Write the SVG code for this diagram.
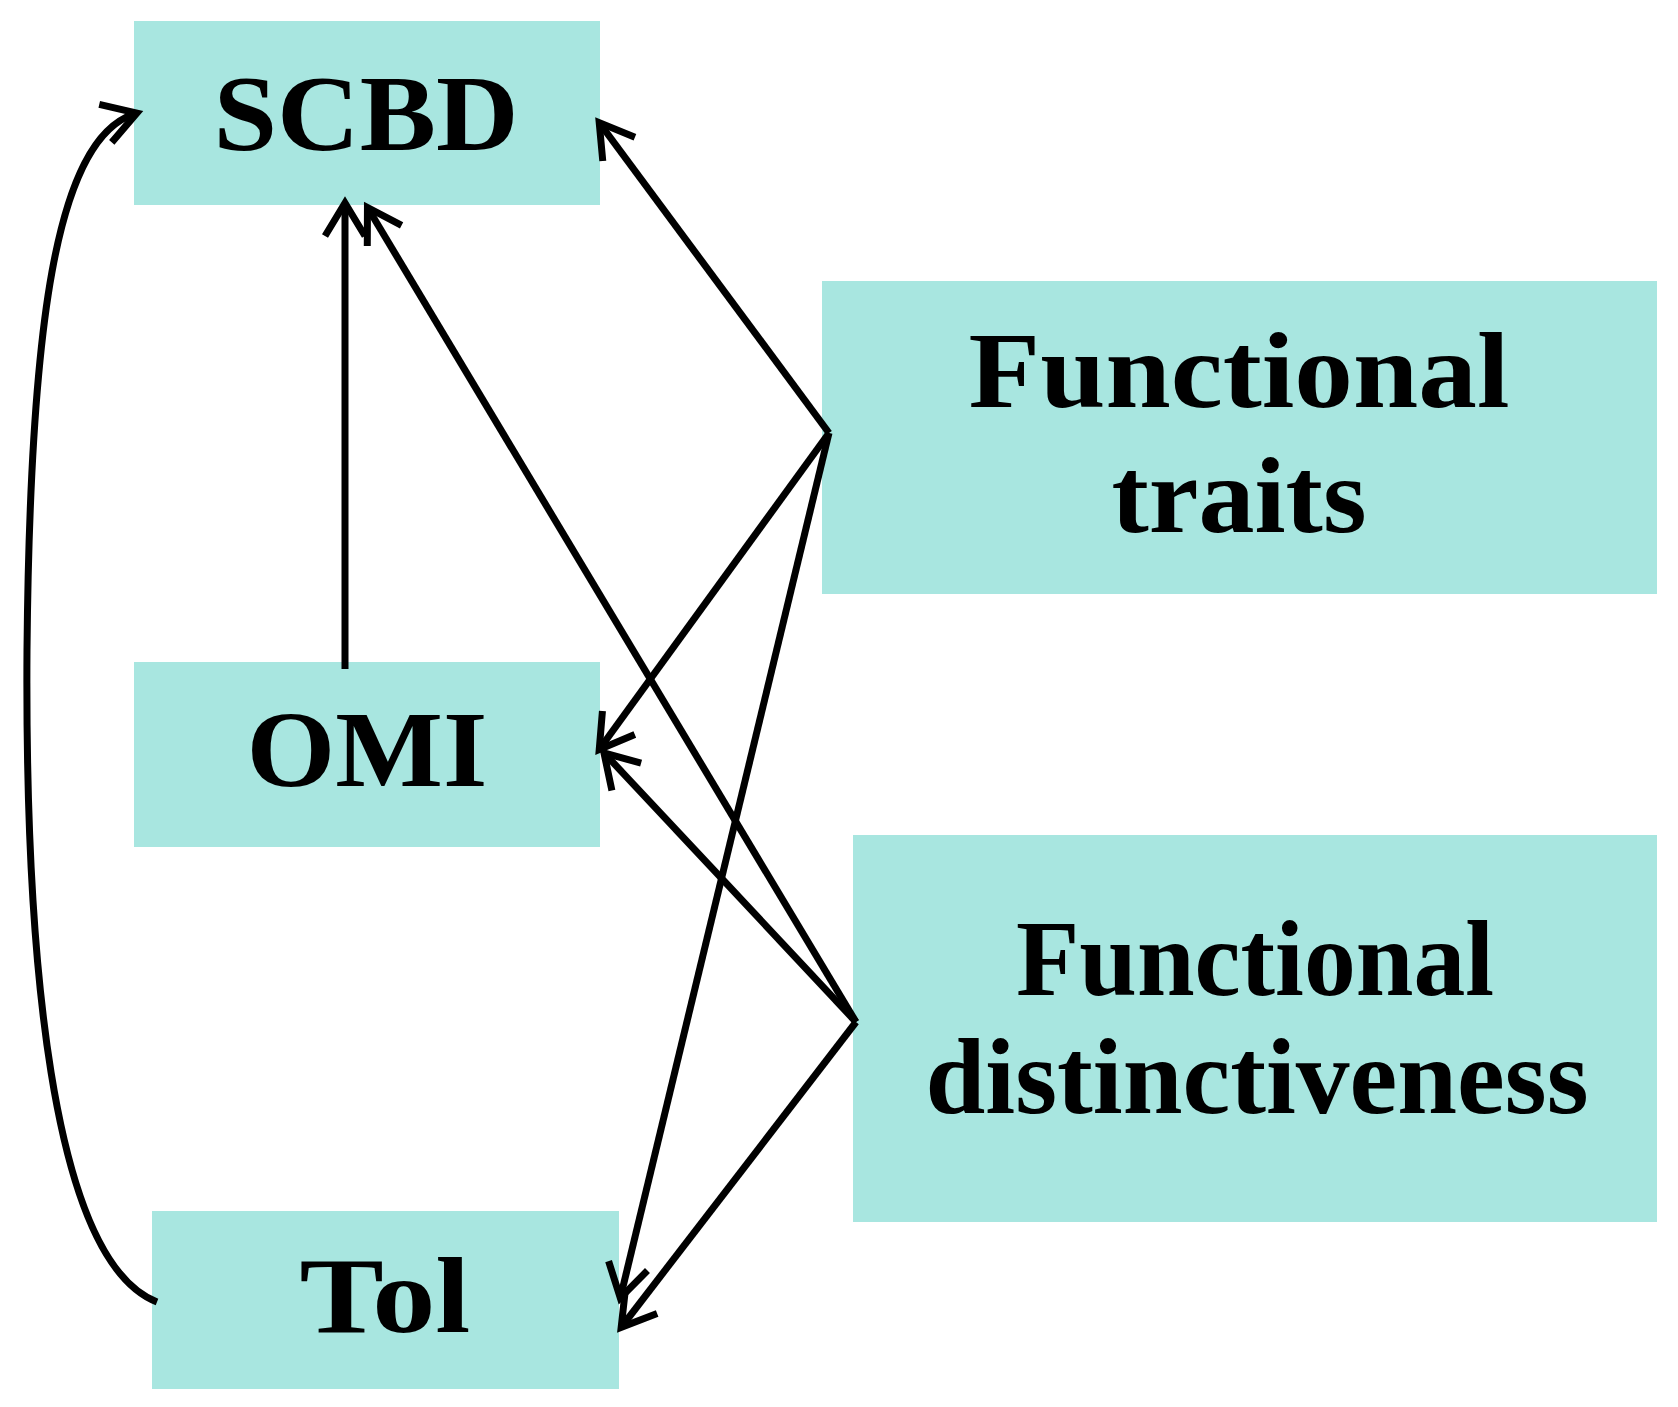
<svg xmlns="http://www.w3.org/2000/svg" width="1678" height="1407" viewBox="0 0 1678 1407">
<style>
.box{fill:#a8e6e0}
.t{font-family:"Liberation Serif",serif;font-size:108px;font-weight:bold;fill:#000;text-anchor:middle}
.c{fill:none;stroke:#000;stroke-width:7;marker-end:url(#ah)}
</style>
<defs>
<marker id="ah" markerWidth="60" markerHeight="60" refX="0" refY="0" orient="auto" markerUnits="userSpaceOnUse" overflow="visible">
<path d="M-30,-20 L3,0 L-30,20" fill="none" stroke="#000" stroke-width="7"/>
</marker>
</defs>
<g id="SCBD"><rect class="box" x="134" y="21" width="466" height="184"/><text class="t" x="366" y="150" textLength="305" lengthAdjust="spacingAndGlyphs">SCBD</text></g>
<g id="FT"><rect class="box" x="822" y="281" width="835" height="313"/><text class="t" x="1239" y="407" textLength="541" lengthAdjust="spacingAndGlyphs">Functional</text><text class="t" x="1239" y="532" textLength="255" lengthAdjust="spacingAndGlyphs">traits</text></g>
<g id="OMI"><rect class="box" x="134" y="662" width="466" height="185"/><text class="t" x="367" y="786" textLength="241" lengthAdjust="spacingAndGlyphs">OMI</text></g>
<g id="FD"><rect class="box" x="853" y="835" width="804" height="387"/><text class="t" x="1255" y="995" textLength="478" lengthAdjust="spacingAndGlyphs">Functional</text><text class="t" x="1257" y="1113" textLength="663" lengthAdjust="spacingAndGlyphs">distinctiveness</text></g>
<g id="Tol"><rect class="box" x="152" y="1211" width="467" height="178"/><text class="t" x="385" y="1332" textLength="171" lengthAdjust="spacingAndGlyphs">Tol</text></g>
<g id="connectors">
<path class="c" d="M345,669 L345,206"/>
<path class="c" d="M829,433 L601,125"/>
<path class="c" d="M829,433 L601,747"/>
<path class="c" d="M829,433 L621,1295"/>
<path class="c" d="M856,1022 L369,210"/>
<path class="c" d="M856,1022 L606,755"/>
<path class="c" d="M856,1022 L623,1325"/>
<path class="c" d="M157,1302 C50,1260 25,950 27,650 C30,330 55,140 134,114"/>
</g>
</svg>
